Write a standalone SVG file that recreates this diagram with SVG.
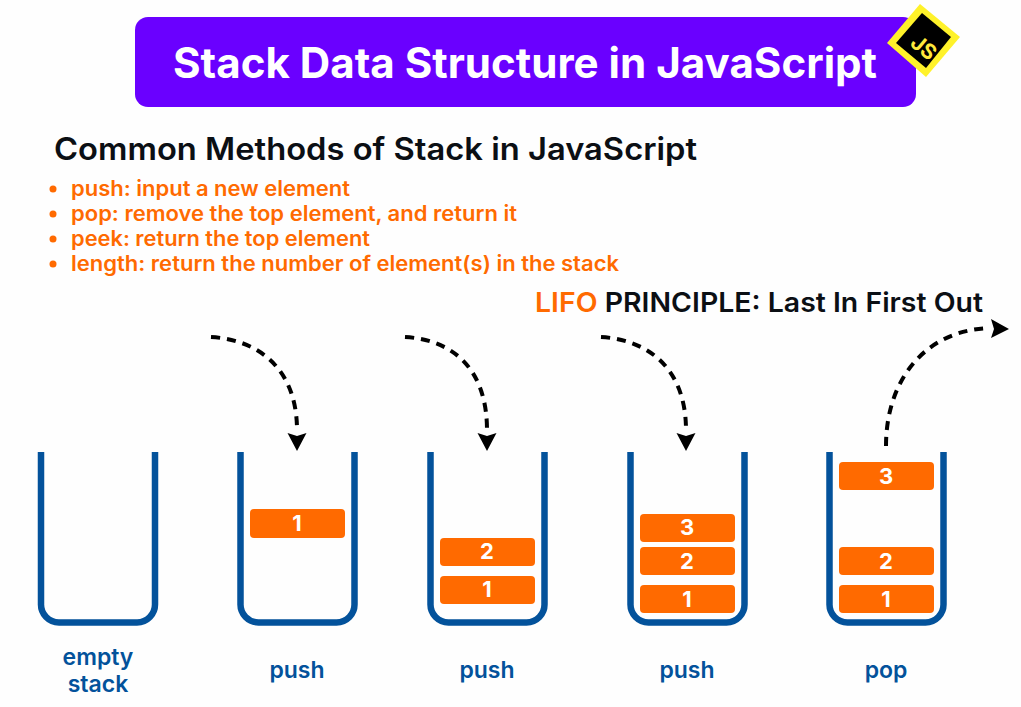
<svg xmlns="http://www.w3.org/2000/svg" width="1021" height="707" viewBox="0 0 1021 707">
<style>
text{font-family:"Inter","Liberation Sans",sans-serif}
.title{font-size:42px;font-weight:700;fill:#fff}
.head{font-size:31px;font-weight:600;fill:#0b0f14}
.li{font-size:21px;font-weight:600;fill:#ff6a00}
.lifo{font-size:27px;font-weight:600;fill:#0b0f14}
.u{fill:none;stroke:#03529b;stroke-width:6.500}
.box{fill:#ff6a00}
.n{font-size:22px;font-weight:700;fill:#fff;text-anchor:middle}
.cap{font-size:23px;font-weight:600;fill:#03529b;text-anchor:middle}
.arr{fill:none;stroke:#000;stroke-width:4;stroke-dasharray:9 7}
.tip{fill:#000}
</style>
<rect width="1021" height="707" fill="#fefefe"/>
<g id="title">
<rect x="135" y="17" width="781" height="90" rx="13" fill="#6a00ff"/>
<text class="title" x="173" y="78" textLength="704" lengthAdjust="spacingAndGlyphs">Stack Data Structure in JavaScript</text>
</g>
<g id="js-logo">
<polygon points="920,4 960,37 926,77 887,43" fill="#fff22a"/>
<polygon points="922,13 951,37 926,68 896,43" fill="#000"/>
<text transform="translate(919,53) rotate(40)" font-size="21" font-weight="700" fill="#ffe93b" text-anchor="middle">JS</text>
</g>
<g id="methods">
<text class="head" x="54" y="160" textLength="643" lengthAdjust="spacingAndGlyphs">Common Methods of Stack in JavaScript</text>
<g fill="#ff6a00"><circle cx="53" cy="189" r="3.500"/><circle cx="53" cy="214" r="3.500"/><circle cx="53" cy="239" r="3.500"/><circle cx="53" cy="264" r="3.500"/></g>
<text class="li" x="71" y="195.500" textLength="279" lengthAdjust="spacingAndGlyphs">push: input a new element</text>
<text class="li" x="71" y="220.500" textLength="446" lengthAdjust="spacingAndGlyphs">pop: remove the top element, and return it</text>
<text class="li" x="71" y="245.500" textLength="299" lengthAdjust="spacingAndGlyphs">peek: return the top element</text>
<text class="li" x="71" y="270.500" textLength="548" lengthAdjust="spacingAndGlyphs">length: return the number of element(s) in the stack</text>
</g>
<g id="lifo">
<text class="lifo" x="535" y="312" textLength="448" lengthAdjust="spacingAndGlyphs"><tspan fill="#ff6a00">LIFO</tspan> PRINCIPLE: Last In First Out</text>
</g>
<g id="connectors">
<path class="arr" d="M211 337C262 340 297 372 297 430"/><path class="tip" d="M287.500 433L297 436L306.500 433L297 451Z"/>
<path class="arr" d="M405 337C456 340 487 372 487 430"/><path class="tip" d="M477.500 433L487 436L496.500 433L487 451Z"/>
<path class="arr" d="M601 337C652 340 686 372 686 430"/><path class="tip" d="M676.500 433L686 436L695.500 433L686 451Z"/>
<path class="arr" d="M886 446C886 380 925 330 990 328"/><path class="tip" d="M991 319L994 329L991 338L1009 329Z"/>
</g>
<g id="stack-empty">
<path class="u" d="M41 452V604A18 18 0 0 0 59 622.500H137A18 18 0 0 0 155 604V452"/>
<text class="cap" x="98" y="665">empty</text><text class="cap" x="98" y="692">stack</text>
</g>
<g id="stack-push-1">
<path class="u" d="M240.500 452V604A18 18 0 0 0 258.500 622.500H336.500A18 18 0 0 0 354.500 604V452"/>
<rect class="box" x="250" y="509" width="95" height="29" rx="4"/><text class="n" x="297" y="531">1</text>
<text class="cap" x="297" y="678">push</text>
</g>
<g id="stack-push-2">
<path class="u" d="M430.500 452V604A18 18 0 0 0 448.500 622.500H526.500A18 18 0 0 0 544.500 604V452"/>
<rect class="box" x="440" y="538" width="95" height="28" rx="4"/><text class="n" x="487" y="559">2</text>
<rect class="box" x="440" y="576" width="95" height="28" rx="4"/><text class="n" x="487" y="597">1</text>
<text class="cap" x="487" y="678">push</text>
</g>
<g id="stack-push-3">
<path class="u" d="M630.500 452V604A18 18 0 0 0 648.500 622.500H726.500A18 18 0 0 0 744.500 604V452"/>
<rect class="box" x="640" y="514" width="95" height="28" rx="4"/><text class="n" x="687" y="535">3</text>
<rect class="box" x="640" y="547" width="95" height="28" rx="4"/><text class="n" x="687" y="569">2</text>
<rect class="box" x="640" y="585" width="95" height="28" rx="4"/><text class="n" x="687" y="607">1</text>
<text class="cap" x="687" y="678">push</text>
</g>
<g id="stack-pop">
<path class="u" d="M829.500 452V604A18 18 0 0 0 847.500 622.500H925.500A18 18 0 0 0 943.500 604V452"/>
<rect class="box" x="839" y="462" width="95" height="28" rx="4"/><text class="n" x="886" y="484">3</text>
<rect class="box" x="839" y="547" width="95" height="28" rx="4"/><text class="n" x="886" y="569">2</text>
<rect class="box" x="839" y="585" width="95" height="28" rx="4"/><text class="n" x="886" y="607">1</text>
<text class="cap" x="886" y="678">pop</text>
</g>
</svg>
